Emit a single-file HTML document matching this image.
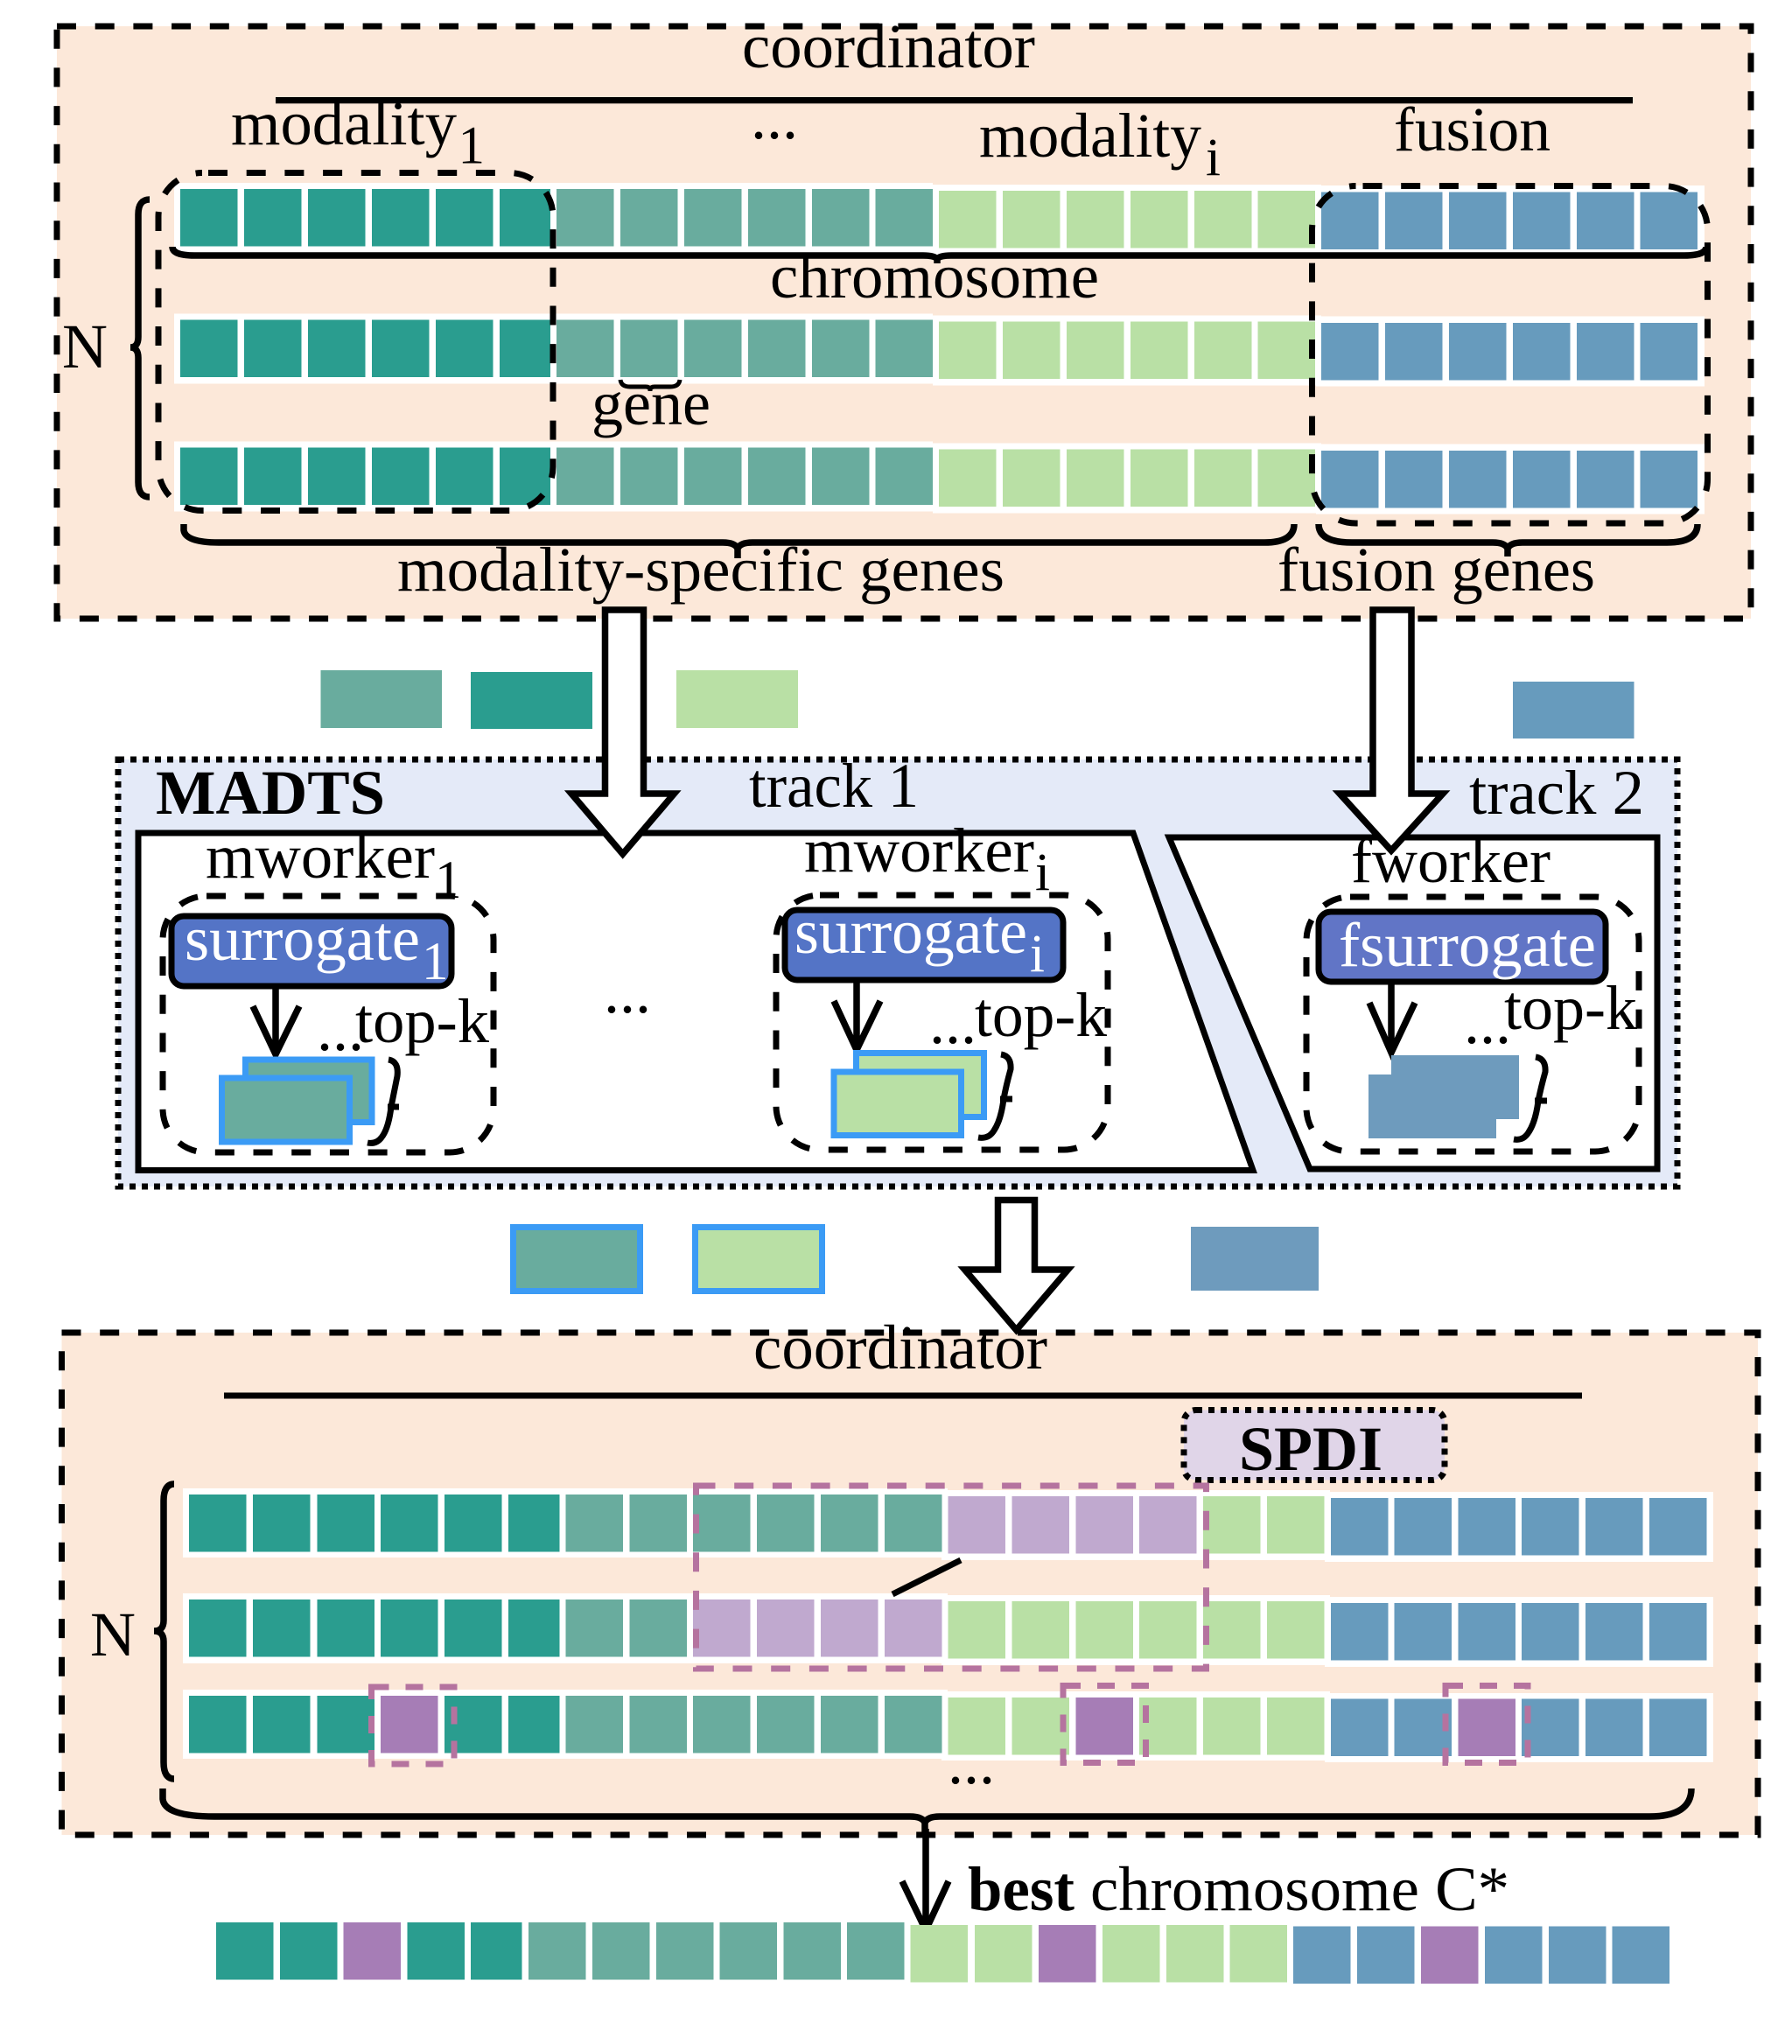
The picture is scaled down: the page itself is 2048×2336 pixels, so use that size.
<!DOCTYPE html>
<html lang="en"><head><meta charset="utf-8"><title>MADTS diagram</title>
<style>
html,body{margin:0;padding:0;background:#fff}
svg{display:block}
text{font-family:"Liberation Serif",serif;font-size:72px;fill:#000}
.b{font-weight:bold}
.w{fill:#fff}
.s{font-size:61px}
.c{width:65.5px;height:65.5px}
.d{fill:#2a9d8f}.m{fill:#69ac9e}.g{fill:#b9e0a5}.u{fill:#679bbd}.l{fill:#c0a9cf}.p{fill:#a67db6}
.dash{fill:none;stroke:#000;stroke-width:7;stroke-dasharray:22 21.7}
.pd{fill:none;stroke:#b5739f;stroke-width:7;stroke-dasharray:22 21.7}
.line{fill:none;stroke:#000;stroke-width:7.5}
.arr{fill:#fff;stroke:#000;stroke-width:7.5}
.st{stroke:#3b9bf5;stroke-width:7}
</style></head><body>
<svg width="2048" height="2336" viewBox="0 0 2048 2336" xmlns="http://www.w3.org/2000/svg">
<rect width="2048" height="2336" fill="#fff"/>

<!-- top coordinator -->
<rect x="65" y="30" width="1936" height="677" fill="#fce8d9"/>
<rect x="65" y="30" width="1936" height="677" class="dash"/>
<text x="848" y="77" textLength="335" lengthAdjust="spacingAndGlyphs">coordinator</text>
<rect x="315" y="111" width="1551" height="7.300"/>
<text x="264" y="165" textLength="258" lengthAdjust="spacingAndGlyphs">modality</text>
<text x="523.500" y="186.500" class="s">1</text>
<text x="858" y="158">...</text>
<text x="1119" y="179" textLength="254" lengthAdjust="spacingAndGlyphs">modality</text>
<text x="1378" y="200" class="s">i</text>
<text x="1593" y="172" textLength="179" lengthAdjust="spacingAndGlyphs">fusion</text>

<g id="r1">
<rect x="199" y="209" width="867" height="80" fill="#fff"/>
<rect x="1066" y="211" width="444" height="80" fill="#fff"/>
<rect x="1504" y="212" width="444" height="80" fill="#fff"/>
<rect class="c d" x="206" y="216"/><rect class="c d" x="279" y="216"/><rect class="c d" x="352" y="216"/><rect class="c d" x="425" y="216"/><rect class="c d" x="498" y="216"/><rect class="d" x="571" y="216" width="58" height="65.500"/>
<rect class="c m" x="636" y="216"/><rect class="c m" x="709" y="216"/><rect class="c m" x="782" y="216"/><rect class="c m" x="855" y="216"/><rect class="c m" x="928" y="216"/><rect class="c m" x="1000.500" y="216"/>
<rect class="c g" x="1073" y="218"/><rect class="c g" x="1146" y="218"/><rect class="c g" x="1219" y="218"/><rect class="c g" x="1292" y="218"/><rect class="c g" x="1365" y="218"/><rect class="c g" x="1437.500" y="218"/>
<rect class="c u" x="1510" y="219.500"/><rect class="c u" x="1583" y="219.500"/><rect class="c u" x="1656" y="219.500"/><rect class="c u" x="1729" y="219.500"/><rect class="c u" x="1802" y="219.500"/><rect class="c u" x="1874.500" y="219.500"/>
</g>
<use href="#r1" transform="translate(0,149.500)"/>
<use href="#r1" transform="translate(0,295.500)"/>

<rect x="181" y="197.500" width="451" height="386" rx="50" class="dash" style="stroke-dashoffset:-7"/>
<rect x="1499.500" y="212.500" width="452" height="385.500" rx="50" class="dash" style="stroke-dashoffset:-8"/>
<path class="line" d="M197 282Q197 292 222 292H1055Q1068 292 1071 296V301M1071 296Q1074 292 1087 292H1925Q1950 292 1950 282"/>
<path class="line" d="M171 228Q158 228 158 245V385Q158 397 149 397Q158 397 158 409V551Q158 568 171 568"/>
<path class="line" style="stroke-width:5" d="M709 434Q710 442 720 442H738Q742 442 743 445V447M743 445Q744 442 748 442H766Q776 442 777 434"/>
<path class="line" d="M210 599V606Q212 620 250 620H826Q840 620 843 627V638M843 627Q846 620 860 620H1445Q1479 620 1479 599"/>
<path class="line" d="M1507 599Q1507 620 1545 620H1706Q1720 620 1723 627V636M1723 627Q1726 620 1740 620H1905Q1940 620 1940 599"/>
<text x="880" y="340" textLength="376" lengthAdjust="spacingAndGlyphs">chromosome</text>
<text x="676" y="485" textLength="136" lengthAdjust="spacingAndGlyphs">gene</text>
<text x="71" y="420">N</text>
<text x="454" y="675" textLength="694" lengthAdjust="spacingAndGlyphs">modality-specific genes</text>
<text x="1460" y="675" textLength="363" lengthAdjust="spacingAndGlyphs">fusion genes</text>

<!-- legend rects -->
<rect x="366.500" y="766" width="138.500" height="66" class="m"/>
<rect x="538" y="768" width="139" height="65" class="d"/>
<rect x="773" y="766" width="139" height="66" class="g"/>
<rect x="1729" y="779" width="138.500" height="65" class="u"/>

<!-- MADTS -->
<rect x="135" y="868" width="1782" height="488" fill="#e4eaf8" stroke="#000" stroke-width="7" stroke-dasharray="7 7"/>
<polygon points="158,952 1295,952 1432,1337.500 158,1337.500" fill="#fff" stroke="#000" stroke-width="7"/>
<polygon points="1336,957 1894,957 1894,1336 1497,1336" fill="#fff" stroke="#000" stroke-width="7"/>
<text x="178" y="930" class="b" textLength="262" lengthAdjust="spacingAndGlyphs">MADTS</text>
<text x="856" y="922" textLength="194" lengthAdjust="spacingAndGlyphs">track 1</text>
<text x="1679" y="930" textLength="200" lengthAdjust="spacingAndGlyphs">track 2</text>
<text x="235" y="1003" textLength="262" lengthAdjust="spacingAndGlyphs">mworker</text>
<text x="497" y="1026" class="s">1</text>
<text x="919" y="996" textLength="263" lengthAdjust="spacingAndGlyphs">mworker</text>
<text x="1183" y="1017" class="s">i</text>
<text x="1544" y="1008" textLength="228" lengthAdjust="spacingAndGlyphs">fworker</text>

<rect x="186" y="1024" width="378" height="293" rx="50" class="dash"/>
<rect x="887" y="1023" width="379" height="291" rx="50" class="dash"/>
<rect x="1493" y="1025" width="380" height="291" rx="50" class="dash"/>

<rect x="196" y="1047" width="320" height="80" rx="14" fill="#5474c6" stroke="#000" stroke-width="7"/>
<rect x="897" y="1040" width="318" height="80" rx="14" fill="#5474c6" stroke="#000" stroke-width="7"/>
<rect x="1507" y="1042" width="328" height="80" rx="14" fill="#6175c6" stroke="#000" stroke-width="7"/>
<text x="211" y="1097" class="w" textLength="269" lengthAdjust="spacingAndGlyphs">surrogate</text>
<text x="482" y="1119" class="w s">1</text>
<text x="908" y="1089" class="w" textLength="266" lengthAdjust="spacingAndGlyphs">surrogate</text>
<text x="1177" y="1110" class="w s">i</text>
<text x="1530" y="1104" class="w" textLength="294" lengthAdjust="spacingAndGlyphs">fsurrogate</text>

<path class="line" d="M315 1130V1203M289 1150L315 1205L342 1150"/>
<path class="line" d="M979 1123V1198M953 1144L979 1200L1006 1144"/>
<path class="line" d="M1590 1125V1200M1565 1146L1590 1203L1617 1146"/>

<rect x="280.500" y="1211" width="144.500" height="71.500" fill="#69ac9e" class="st"/>
<rect x="253.500" y="1232" width="146" height="73" fill="#69ac9e" class="st"/>
<rect x="978.500" y="1203.500" width="146" height="73" fill="#b9e0a5" class="st"/>
<rect x="953" y="1225" width="145.500" height="72.500" fill="#b9e0a5" class="st"/>
<rect x="1590" y="1206" width="146" height="73" fill="#6e9bbd"/>
<rect x="1564" y="1228" width="146" height="73" fill="#6e9bbd"/>

<path class="line" style="stroke-width:7" d="M444 1211Q456 1213 454 1230Q450 1250 447 1265Q444 1290 436 1300Q430 1308 420 1306M443 1265H456"/>
<path class="line" style="stroke-width:7" d="M1144 1205Q1156 1207 1155 1222Q1150 1240 1147 1256Q1144 1280 1136 1292Q1130 1302 1118 1300M1143 1256H1157"/>
<path class="line" style="stroke-width:7" d="M1755 1208Q1767 1210 1766 1225Q1761 1243 1758 1258Q1755 1282 1747 1294Q1741 1304 1730 1302M1754 1258H1768"/>

<text x="362" y="1200">...</text>
<text x="406" y="1191" textLength="153" lengthAdjust="spacingAndGlyphs">top-k</text>
<text x="1062" y="1192">...</text>
<text x="1114" y="1184" textLength="151" lengthAdjust="spacingAndGlyphs">top-k</text>
<text x="1673" y="1192">...</text>
<text x="1719" y="1176" textLength="152" lengthAdjust="spacingAndGlyphs">top-k</text>
<text x="690" y="1157">...</text>

<!-- arrows -->
<polygon class="arr" points="691.500,697 735.500,697 735.500,907 770.500,907 711.700,976 653,907 691.500,907"/>
<polygon class="arr" points="1569,697 1613,697 1613,907 1649,907 1590,972 1531,907 1569,907"/>

<!-- legend 2 -->
<rect x="586.500" y="1402.500" width="145" height="73" fill="#69ac9e" class="st"/>
<rect x="794.500" y="1402.500" width="145" height="73" fill="#b9e0a5" class="st"/>
<rect x="1361" y="1402" width="146" height="73" fill="#6e9bbd"/>

<!-- bottom coordinator -->
<rect x="70.500" y="1523" width="1938.500" height="574" fill="#fce8d9"/>
<rect x="70.500" y="1523" width="1938.500" height="574" class="dash"/>
<polygon class="arr" points="1140.500,1371.500 1182.500,1371.500 1182.500,1451 1220.500,1451 1161.500,1520 1102.500,1451 1140.500,1451"/>
<text x="861" y="1564" textLength="336" lengthAdjust="spacingAndGlyphs">coordinator</text>
<rect x="256" y="1591.500" width="1552" height="7"/>
<rect x="1353" y="1611.500" width="298" height="80" rx="14" fill="#e0d5e8" stroke="#000" stroke-width="7" stroke-dasharray="7 7"/>
<text x="1416" y="1680" class="b" textLength="164" lengthAdjust="spacingAndGlyphs">SPDI</text>

<!-- white strips -->
<g fill="#fff">
<rect x="209" y="1701" width="874" height="79"/><rect x="1076" y="1703" width="444" height="80"/><rect x="1514" y="1705" width="444" height="80"/>
<rect x="209" y="1821" width="874" height="80"/><rect x="1076" y="1823" width="444" height="80"/><rect x="1514" y="1825" width="444" height="80"/>
<rect x="209" y="1931" width="874" height="79"/><rect x="1076" y="1933" width="444" height="79"/><rect x="1514" y="1935" width="444" height="79"/>
</g>

<!-- row 1 -->
<g>
<rect class="c d" x="216" y="1708"/><rect class="c d" x="289" y="1708"/><rect class="c d" x="362.500" y="1708"/><rect class="c d" x="435" y="1708"/><rect class="c d" x="508" y="1708"/><rect class="d" x="581" y="1708" width="58.500" height="65.500"/>
<rect class="c m" x="646.500" y="1708"/><rect class="c m" x="719.500" y="1708"/><rect class="c m" x="792" y="1708"/><rect class="c m" x="865" y="1708"/><rect class="c m" x="938" y="1708"/><rect class="c m" x="1011" y="1708"/>
<rect class="c l" x="1083.500" y="1710"/><rect class="c l" x="1156.500" y="1710"/><rect class="c l" x="1229.500" y="1710"/><rect class="c l" x="1302" y="1710"/><rect class="c g" x="1375" y="1710"/><rect class="c g" x="1448" y="1710"/>
<rect class="c u" x="1521" y="1712"/><rect class="c u" x="1593.500" y="1712"/><rect class="c u" x="1666.500" y="1712"/><rect class="c u" x="1739" y="1712"/><rect class="c u" x="1812" y="1712"/><rect class="c u" x="1885" y="1712"/>
</g>
<!-- row 2 -->
<g>
<rect class="c d" x="216" y="1828"/><rect class="c d" x="289" y="1828"/><rect class="c d" x="362.500" y="1828"/><rect class="c d" x="435" y="1828"/><rect class="c d" x="508" y="1828"/><rect class="d" x="581" y="1828" width="58.500" height="65.500"/>
<rect class="c m" x="646.500" y="1828"/><rect class="c m" x="719.500" y="1828"/><rect class="c l" x="792" y="1828"/><rect class="c l" x="865" y="1828"/><rect class="c l" x="938" y="1828"/><rect class="c l" x="1011" y="1828"/>
<rect class="c g" x="1083.500" y="1830"/><rect class="c g" x="1156.500" y="1830"/><rect class="c g" x="1229.500" y="1830"/><rect class="c g" x="1302" y="1830"/><rect class="c g" x="1375" y="1830"/><rect class="c g" x="1448" y="1830"/>
<rect class="c u" x="1521" y="1832"/><rect class="c u" x="1593.500" y="1832"/><rect class="c u" x="1666.500" y="1832"/><rect class="c u" x="1739" y="1832"/><rect class="c u" x="1812" y="1832"/><rect class="c u" x="1885" y="1832"/>
</g>
<!-- row 3 -->
<g>
<rect class="c d" x="216" y="1938"/><rect class="c d" x="289" y="1938"/><rect class="d" x="362.500" y="1938" width="73" height="65.500"/><rect class="c d" x="508" y="1938"/><rect class="d" x="581" y="1938" width="58.500" height="65.500"/>
<rect x="428" y="1931" width="80" height="79" fill="#fff"/><rect class="c p" x="435" y="1938"/>
<rect class="c m" x="646.500" y="1938"/><rect class="c m" x="719.500" y="1938"/><rect class="c m" x="792" y="1938"/><rect class="c m" x="865" y="1938"/><rect class="c m" x="938" y="1938"/><rect class="c m" x="1011" y="1938"/>
<rect class="c g" x="1083.500" y="1940"/><rect class="g" x="1156.500" y="1940" width="73" height="65.500"/><rect class="g" x="1295" y="1940" width="72.500" height="65.500"/><rect class="c g" x="1375" y="1940"/><rect class="c g" x="1448" y="1940"/>
<rect x="1222" y="1933" width="80" height="79" fill="#fff"/><rect class="c p" x="1229.500" y="1940"/>
<rect class="c u" x="1521" y="1941.500"/><rect class="u" x="1593.500" y="1941.500" width="73" height="65.500"/><rect class="u" x="1732" y="1941.500" width="72.500" height="65.500"/><rect class="c u" x="1812" y="1941.500"/><rect class="c u" x="1885" y="1941.500"/>
<rect x="1659" y="1935" width="80" height="79" fill="#fff"/><rect class="c p" x="1666.500" y="1941.500"/>
</g>

<rect x="795.500" y="1698" width="583" height="209" class="pd"/>
<rect x="424.500" y="1928" width="94.500" height="88" class="pd" style="stroke-dasharray:20 19"/>
<rect x="1215" y="1926.500" width="94.500" height="88" class="pd" style="stroke-dasharray:20 19"/>
<rect x="1652" y="1926.500" width="94" height="88" class="pd" style="stroke-dasharray:20 19"/>
<path class="line" style="stroke-width:7" d="M1098 1783L1020 1822"/>
<path class="line" d="M199 1696Q187 1696 187 1715V1852Q187 1864 176 1864Q187 1864 187 1876V2014Q187 2033 199 2033"/>
<path class="line" d="M186 2044V2056Q188 2076 245 2076H1040Q1054 2076 1057 2083V2094M1057 2083Q1060 2076 1074 2076H1885Q1933 2076 1933 2044"/>
<text x="103" y="1892">N</text>
<text x="1083" y="2038">...</text>

<!-- best -->
<path class="line" d="M1058 2090V2204M1031 2150L1058 2206L1084 2150"/>
<text x="1106" y="2183" class="b" textLength="122" lengthAdjust="spacingAndGlyphs">best</text>
<text x="1246" y="2183" textLength="479" lengthAdjust="spacingAndGlyphs">chromosome C*</text>
<g>
<rect class="c d" x="247" y="2197"/><rect class="c d" x="320" y="2197"/><rect class="c p" x="392.500" y="2197"/><rect class="c d" x="465.500" y="2197"/><rect class="d" x="538" y="2197" width="58.500" height="65.500"/>
<rect class="c m" x="604" y="2197"/><rect class="c m" x="677" y="2197"/><rect class="c m" x="750" y="2197"/><rect class="c m" x="822.500" y="2197"/><rect class="c m" x="895.500" y="2197"/><rect class="c m" x="968" y="2197"/>
<rect class="c g" x="1040.500" y="2200"/><rect class="c g" x="1114" y="2200"/><rect class="c p" x="1187" y="2200"/><rect class="c g" x="1260" y="2200"/><rect class="c g" x="1333" y="2200"/><rect class="c g" x="1405.500" y="2200"/>
<rect class="c u" x="1478" y="2201.500"/><rect class="c u" x="1551" y="2201.500"/><rect class="c p" x="1624" y="2201.500"/><rect class="c u" x="1697" y="2201.500"/><rect class="c u" x="1770" y="2201.500"/><rect class="c u" x="1842.500" y="2201.500"/>
</g>
</svg>
</body></html>
